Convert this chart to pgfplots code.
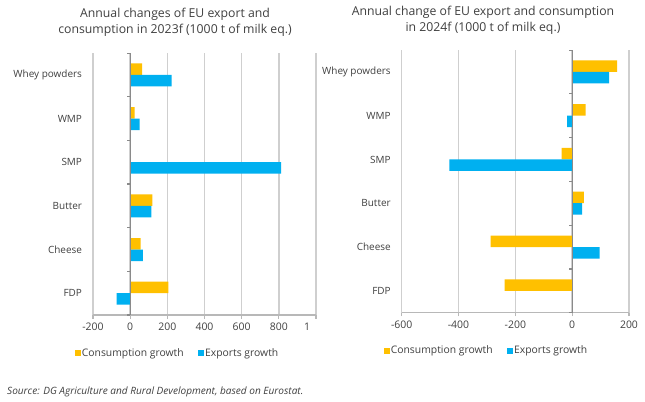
\documentclass[border=0pt]{standalone}
\usepackage{fontspec}
\setmainfont{Open Sans}
\usepackage{pgfplots}
\pgfplotsset{compat=1.18}

\definecolor{cons}{HTML}{FFC000}
\definecolor{expo}{HTML}{00B0F0}
\definecolor{txt}{HTML}{404040}
\definecolor{gridc}{HTML}{CFCFCF}
\definecolor{zeroc}{HTML}{8A8A8A}
\definecolor{basec}{HTML}{B8B8B8}

% Annual changes (1000 t of milk eq.); y: 5 = Whey powders ... 0 = FDP
\pgfplotstableread{
y  cons  expo
5   65   223
4   24    51
3    0   812
2  120   114
1   56    69
0  205   -73
}\tabA
\pgfplotstableread{
y  cons  expo
5  158   130
4   47   -18
3  -37  -432
2   41    35
1 -287    97
0 -238     0
}\tabB

\pgfplotsset{
  dairy/.style={
    scale only axis,
    xbar,
    bar width=11.5bp,
    ymin=-0.5, ymax=5.5,
    ytick={0,1,2,3,4,5},
    yticklabels={FDP,Cheese,Butter,SMP,WMP,Whey powders},
    major y tick style={draw=none},
    axis line style={draw=none},
    xmajorgrids=true,
    major grid style={draw=gridc, line width=1.5bp},
    xtick pos=bottom,
    tick align=outside,
    major tick length=3.5bp,
    major x tick style={draw=basec, line width=1.2bp},
    xticklabel style={font=\fontsize{10.5}{12}\selectfont, text=txt, yshift=-1bp},
    yticklabel style={font=\fontsize{10}{12}\selectfont, text=txt, xshift=-4bp},
    legend columns=2,
    legend style={draw=none, fill=none, font=\fontsize{10.4}{12}\selectfont,
      text=txt, anchor=center,
      /tikz/every even column/.append style={column sep=13bp},
      nodes={inner sep=1.2bp}},
    legend image code/.code={\fill (0bp,-3bp) rectangle (6bp,3bp);},
  },
}

\begin{document}
\begin{tikzpicture}
\useasboundingbox[fill=white] (0,0) rectangle (645bp,-402bp);

% 2023f
\begin{axis}[dairy,
  at={(93bp,-315bp)}, anchor=south west,
  width=223bp, height=262bp,
  xmin=-200, xmax=1000,
  xtick={-200,0,200,400,600,800,1000},
  xticklabels={-200,0,200,400,600,800,1\phantom{000}},
  legend style={at={(0.377,-0.145)}},
]
\addplot[fill=cons, draw=none, bar shift=5.75bp] table[x=cons, y=y] {\tabA};
\addplot[fill=expo, draw=none, bar shift=-5.75bp] table[x=expo, y=y] {\tabA};
\legend{Consumption growth, Exports growth}
\draw[draw=basec, line width=1.2bp] (rel axis cs:0,0) -- (rel axis cs:1,0);
\draw[draw=zeroc, line width=1.2bp] (axis cs:0,-0.5) -- (axis cs:0,5.5);
\pgfplotsinvokeforeach{-0.5,0.5,1.5,2.5,3.5,4.5,5.5}{
  \draw[draw=zeroc, line width=1.2bp] (axis cs:0,#1) -- ++(-3.5bp,0bp);
}
\end{axis}

% 2024f
\begin{axis}[dairy,
  at={(401.7bp,-312.7bp)}, anchor=south west,
  width=227.3bp, height=262.7bp,
  xmin=-600, xmax=200,
  xtick={-600,-400,-200,0,200},
  xticklabels={-600,-400,-200,0,200},
  legend style={at={(0.371,-0.145)}},
]
\addplot[fill=cons, draw=none, bar shift=5.75bp] table[x=cons, y=y] {\tabB};
\addplot[fill=expo, draw=none, bar shift=-5.75bp] table[x=expo, y=y] {\tabB};
\legend{Consumption growth, Exports growth}
\draw[draw=basec, line width=1.2bp] (rel axis cs:0,0) -- (rel axis cs:1,0);
\draw[draw=zeroc, line width=1.2bp] (axis cs:0,-0.5) -- (axis cs:0,5.5);
\pgfplotsinvokeforeach{-0.5,0.5,1.5,2.5,3.5,4.5,5.5}{
  \draw[draw=zeroc, line width=1.2bp] (axis cs:0,#1) -- ++(-3.5bp,0bp);
}
\end{axis}

% titles
\node[text=txt, align=center, font=\fontsize{12.3}{16}\selectfont] at (175bp,-22bp)
  {Annual changes of EU export and\\consumption in 2023f (1000 t of milk eq.)};
\node[text=txt, align=center, font=\fontsize{12.3}{16}\selectfont] at (483bp,-20bp)
  {Annual change of EU export and consumption\\in 2024f (1000 t of milk eq.)};

% source
\node[text=txt, anchor=west, font=\fontsize{10.1}{12}\selectfont\itshape, inner sep=0pt]
  at (7bp,-392bp) {Source: DG Agriculture and Rural Development, based on Eurostat.};
\end{tikzpicture}
\end{document}
